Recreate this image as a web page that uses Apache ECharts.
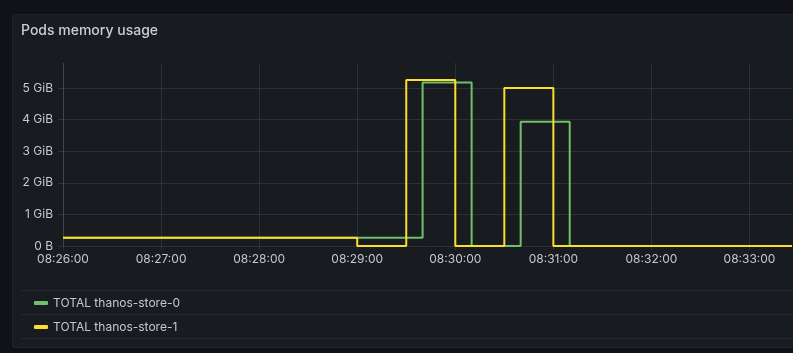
<!DOCTYPE html>
<html>
<head>
<meta charset="utf-8">
<script src="https://cdn.jsdelivr.net/npm/echarts@6/dist/echarts.min.js"></script>
<style>
  html, body { margin: 0; padding: 0; background: #111217; }
  #main { width: 793px; height: 353px; }
</style>
</head>
<body>
<div id="main"></div>
<script>
// time range of the panel
var day = '2024-01-01 ';
var rangeStart = '08:26:00';
var rangeEnd = '08:33:26';

// TOTAL thanos-store-0 (GiB), change points
var store0Times = ['08:26:00', '08:29:40', '08:30:10', '08:30:40', '08:31:10', '08:33:26'];
var store0Values = [0.26, 5.17, 0, 3.93, 0, 0];

// TOTAL thanos-store-1 (GiB), change points
var store1Times = ['08:26:00', '08:29:00', '08:29:30', '08:30:00', '08:30:30', '08:31:00', '08:33:26'];
var store1Values = [0.26, 0, 5.25, 0, 5.0, 0, 0];

var seriesNames = ['TOTAL thanos-store-0', 'TOTAL thanos-store-1'];
var seriesColors = ['#73bf69', '#fade2a'];

function toPairs(times, values) {
    return times.map(function (t, i) { return [day + t, values[i]]; });
}

var textColor = '#c7c7d3';
var gridColor = 'rgba(204,204,220,0.12)';
var font = 'Inter';

var chart = echarts.init(document.getElementById('main'));

chart.setOption({
    backgroundColor: '#111217',
    animation: false,
    graphic: [
        {
            type: 'rect',
            shape: { x: 12.5, y: 14.5, width: 800, height: 333, r: 2 },
            style: { fill: '#181b1f', stroke: 'rgba(204,204,220,0.08)', lineWidth: 1 },
            z: -10
        },
        {
            type: 'text',
            left: 21, top: 24,
            style: { text: 'Pods memory usage', fill: '#ccccdc', font: '500 14px Inter' }
        },
        // legend table separators
        { type: 'line', shape: { x1: 21, y1: 290.5, x2: 793, y2: 290.5 }, style: { stroke: 'rgba(204,204,220,0.08)', lineWidth: 1 } },
        { type: 'line', shape: { x1: 21, y1: 314.5, x2: 793, y2: 314.5 }, style: { stroke: 'rgba(204,204,220,0.08)', lineWidth: 1 } },
        { type: 'line', shape: { x1: 21, y1: 338.5, x2: 793, y2: 338.5 }, style: { stroke: 'rgba(204,204,220,0.08)', lineWidth: 1 } }
    ],
    grid: { left: 63, right: 1, top: 63, bottom: 107, containLabel: false },
    legend: {
        orient: 'vertical',
        left: 29,
        top: 291,
        itemWidth: 14,
        itemHeight: 4,
        itemGap: 10,
        icon: 'roundRect',
        textStyle: { color: textColor, fontFamily: font, fontSize: 12, lineHeight: 14 },
        data: seriesNames
    },
    xAxis: {
        type: 'time',
        min: day + rangeStart,
        max: day + rangeEnd,
        minInterval: 60000,
        maxInterval: 60000,
        axisLine: { show: false },
        axisTick: { show: true, length: 4, lineStyle: { color: gridColor } },
        axisLabel: {
            color: textColor, fontFamily: font, fontSize: 12, margin: 7,
            showMaxLabel: false,
            formatter: '{HH}:{mm}:{ss}'
        },
        splitLine: { show: true, showMaxLine: false, lineStyle: { color: gridColor, width: 1 } }
    },
    yAxis: {
        type: 'value',
        min: 0,
        max: 5.79,
        interval: 1,
        axisLine: { show: false },
        axisTick: { show: true, length: 5, lineStyle: { color: gridColor } },
        axisLabel: {
            color: textColor, fontFamily: font, fontSize: 12, margin: 10,
            showMaxLabel: false,
            formatter: function (v) {
                if (v === 0) return '0 B';
                if (Math.abs(v - Math.round(v)) > 1e-6) return '';
                return v + ' GiB';
            }
        },
        splitLine: { show: true, showMaxLine: false, lineStyle: { color: gridColor, width: 1 } }
    },
    series: [
        {
            name: seriesNames[0],
            type: 'line',
            step: 'end',
            symbol: 'none',
            color: seriesColors[0],
            lineStyle: { width: 2 },
            data: toPairs(store0Times, store0Values)
        },
        {
            name: seriesNames[1],
            type: 'line',
            step: 'end',
            symbol: 'none',
            color: seriesColors[1],
            lineStyle: { width: 2 },
            data: toPairs(store1Times, store1Values)
        }
    ]
});
</script>
</body>
</html>
